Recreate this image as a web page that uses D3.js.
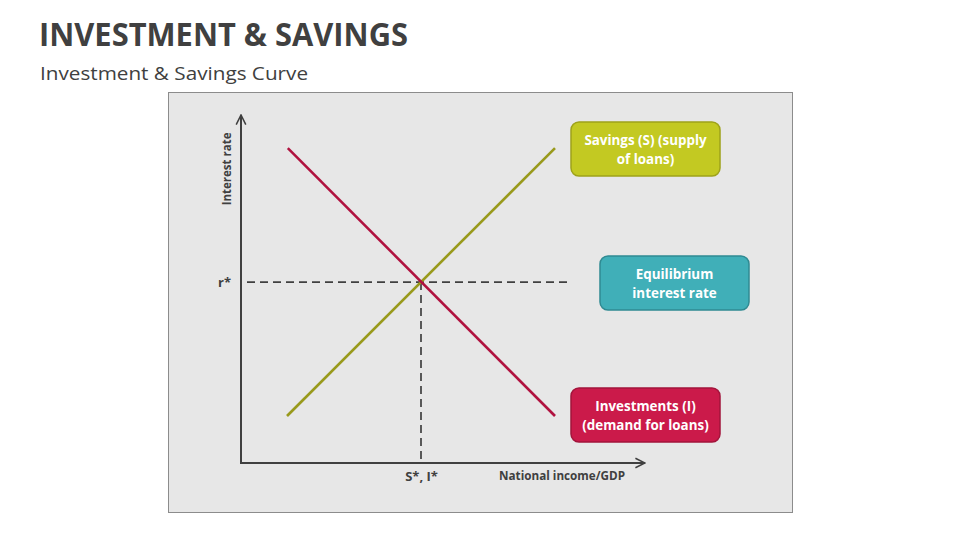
<!DOCTYPE html>
<html>
<head>
<meta charset="utf-8">
<script src="https://cdn.jsdelivr.net/npm/d3@7"></script>
<style>
  body { margin: 0; background: #fff; }
  svg { display: block; font-family: "Open Sans", "Noto Sans", sans-serif; }
</style>
</head>
<body>
<svg id="chart" width="960" height="540"></svg>
<script>
// curve end points, in axis units (0..10 on both axes)
const investment = [{ x: 1.17, y: 9.05 }, { x: 7.85, y: 1.35 }];
const savings = [{ x: 1.15, y: 1.35 }, { x: 7.85, y: 9.05 }];
const equilibrium = { x: 4.5, y: 5.2 };
const yTickLabels = ["r*"];
const xTickLabels = ["S*, I*"];
const boxLabels = [
  ["Savings (S) (supply", "of loans)"],
  ["Equilibrium", "interest rate"],
  ["Investments (I)", "(demand for loans)"],
];

const colors = {
  text: "#404040",
  panel: "#e7e7e7",
  panelStroke: "#8c8c8c",
  axis: "#404040",
  investment: "#b0123f",
  savings: "#999a1c",
  boxes: [
    { fill: "#c3c922", stroke: "#9ea21a" },
    { fill: "#40afb8", stroke: "#2f8a92" },
    { fill: "#cb1a4a", stroke: "#a3143b" },
  ],
};

const svg = d3.select("#chart");

svg.append("text")
  .attr("x", 39).attr("y", 46)
  .attr("font-size", 32).attr("font-weight", 700)
  .attr("fill", colors.text)
  .attr("textLength", 369).attr("lengthAdjust", "spacingAndGlyphs")
  .text("INVESTMENT & SAVINGS");

svg.append("text")
  .attr("x", 40).attr("y", 80)
  .attr("font-size", 19)
  .attr("fill", colors.text)
  .attr("textLength", 268).attr("lengthAdjust", "spacingAndGlyphs")
  .text("Investment & Savings Curve");

svg.append("rect")
  .attr("x", 168.5).attr("y", 92.5)
  .attr("width", 624).attr("height", 420)
  .attr("fill", colors.panel)
  .attr("stroke", colors.panelStroke);

const x = d3.scaleLinear().domain([0, 10]).range([241, 641]);
const y = d3.scaleLinear().domain([0, 10]).range([463, 115]);

const defs = svg.append("defs");
defs.append("marker")
  .attr("id", "arrow")
  .attr("viewBox", "0 0 10 10")
  .attr("refX", 9).attr("refY", 5)
  .attr("markerWidth", 6).attr("markerHeight", 6)
  .attr("markerUnits", "strokeWidth")
  .attr("orient", "auto")
  .append("path")
  .attr("d", "M1,1 L9,5 L1,9")
  .attr("fill", "none")
  .attr("stroke", colors.axis)
  .attr("stroke-width", 1.3);

// axes with arrow heads
svg.append("line")
  .attr("x1", x(0)).attr("y1", y(0))
  .attr("x2", x(10.1)).attr("y2", y(0))
  .attr("stroke", colors.axis).attr("stroke-width", 2)
  .attr("marker-end", "url(#arrow)");
svg.append("line")
  .attr("x1", x(0)).attr("y1", y(0) + 1)
  .attr("x2", x(0)).attr("y2", y(10))
  .attr("stroke", colors.axis).attr("stroke-width", 2)
  .attr("marker-end", "url(#arrow)");

// tick labels only at the equilibrium point
const yAxis = d3.axisLeft(y)
  .tickValues([equilibrium.y])
  .tickSize(0).tickPadding(10)
  .tickFormat((d, i) => yTickLabels[i]);
const yAxisG = svg.append("g")
  .attr("transform", `translate(${x(0)},0)`)
  .call(yAxis);

const xAxis = d3.axisBottom(x)
  .tickValues([equilibrium.x])
  .tickSize(0).tickPadding(9)
  .tickFormat((d, i) => xTickLabels[i]);
const xAxisG = svg.append("g")
  .attr("transform", `translate(0,${y(0)})`)
  .call(xAxis);

[yAxisG, xAxisG].forEach((g) => {
  g.select(".domain").remove();
  g.selectAll("text")
    .attr("font-family", "'Open Sans', sans-serif")
    .attr("font-size", 13).attr("font-weight", 700)
    .attr("fill", colors.text);
});

svg.append("text")
  .attr("transform", `translate(231,${y(8.45)}) rotate(-90)`)
  .attr("text-anchor", "middle")
  .attr("font-size", 11.5).attr("font-weight", 700)
  .attr("fill", colors.text)
  .text("Interest rate");

svg.append("text")
  .attr("x", 562).attr("y", 480)
  .attr("text-anchor", "middle")
  .attr("font-size", 11.7).attr("font-weight", 700)
  .attr("fill", colors.text)
  .text("National income/GDP");

// dashed guides to the equilibrium point
svg.append("line")
  .attr("x1", x(0.15)).attr("y1", y(equilibrium.y))
  .attr("x2", x(8.27)).attr("y2", y(equilibrium.y))
  .attr("stroke", colors.axis).attr("stroke-width", 1.7)
  .attr("stroke-dasharray", "8,5");
svg.append("line")
  .attr("x1", x(equilibrium.x)).attr("y1", y(equilibrium.y))
  .attr("x2", x(equilibrium.x)).attr("y2", y(0))
  .attr("stroke", colors.axis).attr("stroke-width", 1.7)
  .attr("stroke-dasharray", "8,5");

const line = d3.line().x((d) => x(d.x)).y((d) => y(d.y));

svg.append("path")
  .datum(savings)
  .attr("d", line)
  .attr("fill", "none")
  .attr("stroke", colors.savings)
  .attr("stroke-width", 2.6);

svg.append("path")
  .datum(investment)
  .attr("d", line)
  .attr("fill", "none")
  .attr("stroke", colors.investment)
  .attr("stroke-width", 2.6);

// label boxes
const boxPos = [
  { x: 571, y: 122 },
  { x: 600, y: 256 },
  { x: 571, y: 388 },
];
const boxW = 149, boxH = 54;

const boxes = svg.append("g")
  .selectAll("g")
  .data(boxLabels)
  .join("g")
  .attr("transform", (d, i) => `translate(${boxPos[i].x},${boxPos[i].y})`);

boxes.append("rect")
  .attr("width", boxW).attr("height", boxH)
  .attr("rx", 8)
  .attr("fill", (d, i) => colors.boxes[i].fill)
  .attr("stroke", (d, i) => colors.boxes[i].stroke)
  .attr("stroke-width", 1.5);

boxes.append("text")
  .attr("text-anchor", "middle")
  .attr("font-size", 13.4).attr("font-weight", 700)
  .attr("fill", "#fff")
  .selectAll("tspan")
  .data((d) => d)
  .join("tspan")
  .attr("x", boxW / 2)
  .attr("y", (d, i) => 23 + i * 19)
  .text((d) => d);
</script>
</body>
</html>
